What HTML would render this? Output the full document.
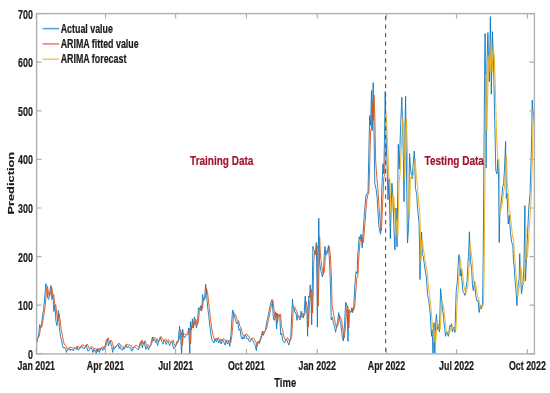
<!DOCTYPE html>
<html><head><meta charset="utf-8"><title>ARIMA prediction</title>
<style>
html,body{margin:0;padding:0;background:#fff;}
body{width:550px;height:393px;overflow:hidden;}
svg{display:block;filter:blur(0.35px);}
text{font-family:'Liberation Sans',Arial,Helvetica,sans-serif;font-weight:bold;fill:#1a1a1a;stroke:#1a1a1a;stroke-width:0.2px;}
</style></head>
<body>
<svg width="550" height="393" viewBox="0 0 550 393">
<rect width="550" height="393" fill="#fff"/>
<defs><clipPath id="c"><rect x="36.6" y="13.6" width="497.79999999999995" height="340.29999999999995"/></clipPath></defs>
<g clip-path="url(#c)" fill="none" stroke-linejoin="round" stroke-width="1">
<path d="M36.40,344.08 L37.00,337.76 L38.50,336.79 L39.70,324.64 L40.70,327.56 L41.70,323.67 L42.50,315.41 L43.60,309.57 L44.60,299.37 L45.80,283.82 L46.80,285.76 L47.60,297.42 L48.60,299.37 L49.90,291.59 L50.90,285.27 L51.90,299.37 L52.90,294.99 L53.90,311.52 L54.90,305.20 L56.00,321.72 L57.00,325.61 L58.40,310.55 L59.40,327.56 L60.40,336.30 L61.40,339.71 L62.40,345.05 L63.30,347.97 L64.10,347.72 L64.90,347.48 L65.70,349.33 L66.50,352.34 L67.60,349.43 L68.45,349.47 L69.30,348.45 L70.10,350.43 L70.90,348.94 L71.70,350.07 L72.50,349.43 L73.35,350.87 L74.20,348.45 L75.30,348.82 L76.40,349.43 L77.20,347.06 L78.00,349.91 L78.80,349.90 L79.60,347.97 L80.45,348.20 L81.30,346.02 L82.10,346.29 L82.90,348.45 L83.70,348.00 L84.50,348.94 L85.35,346.79 L86.20,345.05 L87.30,348.94 L88.10,351.23 L88.90,349.91 L89.70,349.24 L90.50,348.45 L91.35,348.07 L92.20,350.40 L93.00,352.53 L93.80,349.43 L94.60,351.04 L95.40,350.88 L96.25,353.61 L97.10,348.94 L97.90,351.69 L98.70,349.43 L99.50,352.52 L100.30,348.45 L101.15,348.91 L102.00,348.45 L102.80,350.43 L103.60,347.48 L104.70,349.43 L105.80,342.14 L106.60,339.91 L107.40,338.73 L108.50,346.02 L109.35,343.29 L110.20,341.16 L111.00,344.20 L111.80,346.51 L112.60,352.37 L113.40,348.45 L114.20,349.26 L115.00,347.97 L115.85,347.09 L116.70,346.02 L117.50,345.07 L118.30,344.57 L119.15,348.51 L120.00,346.51 L120.80,348.90 L121.60,349.43 L122.45,350.36 L123.30,347.48 L124.10,349.30 L124.90,347.97 L125.70,344.93 L126.50,346.02 L127.30,347.84 L128.10,346.51 L128.95,347.30 L129.80,347.97 L130.65,347.71 L131.50,350.88 L132.30,350.80 L133.10,348.45 L133.90,347.70 L134.70,346.51 L135.55,347.27 L136.40,348.45 L137.20,349.06 L138.00,349.91 L138.80,349.38 L139.60,344.08 L140.45,342.47 L141.30,341.16 L142.40,347.97 L143.40,343.11 L144.20,341.92 L145.00,346.02 L145.85,349.27 L146.70,346.51 L147.55,346.54 L148.40,349.91 L149.20,347.98 L150.00,346.51 L150.80,344.84 L151.60,340.68 L152.45,337.03 L153.30,341.16 L154.10,339.20 L154.90,340.19 L155.70,342.52 L156.50,340.19 L157.60,345.54 L158.80,341.16 L160.30,336.79 L161.50,341.16 L162.30,342.48 L163.10,344.08 L163.90,341.01 L164.70,340.19 L165.50,342.75 L166.30,344.57 L167.15,341.54 L168.00,341.16 L168.80,343.48 L169.60,345.54 L170.45,342.78 L171.30,342.62 L172.10,341.53 L172.90,346.02 L173.70,348.55 L174.50,348.45 L175.60,346.02 L177.10,341.16 L178.10,342.14 L179.60,326.10 L180.60,335.82 L181.60,353.80 L182.60,329.01 L183.60,335.82 L184.60,337.76 L185.70,335.82 L186.70,334.85 L187.70,334.36 L188.70,328.04 L189.80,353.80 L190.40,321.72 L191.40,329.99 L192.40,318.81 L193.40,328.04 L194.40,316.86 L195.50,323.18 L196.50,328.04 L197.50,320.75 L198.50,307.63 L199.50,310.06 L200.60,305.69 L201.60,311.03 L202.60,294.51 L203.60,300.83 L204.60,297.91 L205.70,284.30 L206.70,295.48 L207.70,307.63 L208.70,315.41 L209.80,325.61 L210.80,333.87 L212.00,340.19 L212.90,341.26 L213.80,343.11 L215.00,339.22 L216.20,341.65 L217.50,338.73 L218.60,343.11 L220.00,340.19 L221.20,344.08 L222.50,339.22 L223.60,341.65 L225.00,345.05 L226.20,340.68 L227.50,344.08 L228.60,341.16 L229.80,346.51 L231.00,334.36 L232.20,314.92 L232.80,310.06 L233.60,313.95 L234.40,315.89 L235.50,319.78 L236.70,323.67 L237.80,321.72 L239.00,330.33 L240.00,328.78 L241.00,336.32 L242.00,339.14 L243.10,336.62 L244.10,338.86 L245.10,334.98 L246.10,336.08 L247.10,338.99 L248.10,338.25 L249.20,341.31 L250.20,341.83 L251.20,339.37 L252.20,339.34 L253.20,341.16 L254.20,343.56 L255.30,345.54 L256.30,350.69 L257.30,342.01 L258.30,341.78 L259.30,343.53 L260.30,338.69 L261.40,335.53 L262.40,331.30 L263.40,335.26 L264.40,331.95 L265.40,330.30 L266.40,324.39 L267.50,318.42 L268.50,314.49 L269.70,307.48 L270.90,302.21 L272.10,299.53 L273.10,313.96 L273.60,319.55 L274.60,320.14 L275.60,311.69 L276.60,328.84 L277.60,313.54 L278.70,315.60 L279.70,314.57 L280.70,334.58 L281.70,333.24 L282.70,340.47 L283.70,342.07 L284.70,342.82 L285.80,339.46 L286.80,339.49 L287.80,342.43 L288.80,345.11 L289.80,340.90 L290.80,336.54 L291.70,315.10 L292.50,299.27 L293.20,307.86 L293.90,307.97 L295.00,312.58 L296.00,312.75 L297.00,320.35 L298.00,316.18 L299.10,317.67 L300.00,320.03 L301.10,311.16 L302.10,315.10 L303.10,318.04 L304.20,312.85 L305.20,296.08 L306.20,310.53 L307.00,313.23 L307.60,336.23 L308.20,308.20 L308.80,296.09 L309.50,297.49 L310.20,284.90 L311.00,296.49 L311.70,324.77 L312.40,280.90 L312.90,246.39 L313.60,249.31 L314.30,250.77 L315.30,254.66 L316.30,242.51 L316.90,280.90 L317.40,327.10 L318.10,256.60 L318.80,218.21 L319.40,260.97 L320.20,266.32 L321.00,271.18 L321.70,273.61 L322.40,277.01 L323.50,271.18 L324.20,256.60 L324.90,246.39 L325.70,251.74 L326.50,254.66 L327.50,250.77 L328.50,245.42 L329.50,260.97 L330.60,289.64 L331.20,319.93 L332.40,317.48 L333.60,323.78 L334.60,327.17 L335.60,332.35 L336.70,325.86 L337.70,321.52 L338.70,312.61 L339.70,320.10 L340.70,322.76 L341.70,331.91 L342.30,336.94 L342.80,339.71 L343.40,341.02 L344.50,324.62 L345.70,302.30 L346.50,304.03 L347.30,309.15 L348.00,341.38 L348.60,311.22 L349.20,309.75 L350.10,312.57 L351.00,312.20 L351.80,307.72 L352.60,312.59 L353.80,306.21 L354.90,284.87 L356.00,271.67 L357.20,273.61 L357.60,257.09 L358.40,246.88 L359.20,236.67 L360.10,239.59 L361.00,234.24 L362.20,247.85 L363.30,229.87 L364.50,211.40 L365.30,203.14 L366.10,195.36 L367.00,193.42 L368.00,192.93 L368.90,149.68 L369.70,115.66 L370.60,125.38 L371.50,90.39 L372.20,130.73 L373.20,82.61 L374.00,130.73 L374.80,183.70 L376.00,188.56 L377.10,197.31 L378.00,212.86 L379.00,227.44 L379.80,231.33 L380.60,234.24 L381.70,192.93 L382.90,163.77 L383.80,173.98 L384.60,130.24 L385.20,91.36 L386.00,135.10 L386.90,160.37 L388.00,199.74 L389.00,178.84 L390.30,238.62 L391.20,208.00 L391.90,183.21 L393.00,198.28 L394.10,232.30 L394.90,249.80 L396.00,208.00 L397.00,246.88 L398.30,144.33 L399.20,169.12 L400.30,135.10 L401.80,97.19 L402.60,125.38 L403.40,159.40 L404.00,201.68 L404.80,135.10 L405.60,96.22 L406.50,169.12 L407.50,242.99 L408.60,227.44 L409.50,153.57 L410.90,172.04 L412.00,178.84 L413.20,164.26 L414.30,151.14 L415.50,188.56 L416.60,193.42 L417.80,210.92 L419.00,222.58 L419.60,249.80 L420.00,279.44 L420.80,242.02 L421.60,232.30 L422.40,254.66 L423.30,256.60 L424.20,263.40 L425.30,271.18 L426.40,277.50 L427.60,295.48 L428.70,299.85 L429.50,307.63 L430.30,314.92 L431.50,336.30 L432.20,329.50 L433.00,353.31 L434.00,322.70 L434.80,353.31 L435.60,324.64 L436.40,314.43 L437.60,329.50 L438.70,324.64 L439.40,331.93 L440.60,288.68 L441.70,299.85 L442.50,309.09 L443.30,314.92 L444.00,322.70 L444.80,329.50 L445.50,336.30 L446.30,333.39 L447.00,331.93 L447.70,334.36 L448.30,336.30 L449.10,330.47 L449.80,325.61 L450.60,327.07 L451.30,323.67 L452.40,331.93 L453.10,329.50 L453.90,327.07 L455.00,332.42 L455.60,310.06 L456.20,291.11 L457.40,280.90 L458.10,266.32 L458.80,254.66 L459.70,256.60 L460.20,276.04 L461.00,268.75 L462.00,280.90 L463.00,291.59 L464.00,293.05 L465.00,295.48 L466.00,288.19 L467.00,281.87 L468.00,261.46 L468.50,256.60 L469.40,231.81 L470.50,261.46 L471.60,268.75 L472.50,285.76 L473.40,290.62 L474.60,281.39 L475.70,295.48 L476.90,300.83 L478.00,300.34 L479.20,312.49 L480.30,305.20 L481.40,309.09 L482.60,302.77 L483.20,256.60 L483.90,159.40 L484.50,86.50 L485.10,33.53 L486.00,168.15 L487.00,62.20 L487.90,32.55 L488.60,62.20 L489.30,81.64 L490.40,16.52 L491.30,94.28 L492.40,31.58 L493.50,62.20 L494.50,110.80 L495.80,170.58 L497.00,173.98 L497.90,159.40 L498.60,179.33 L499.20,242.51 L500.00,208.00 L501.00,203.14 L502.00,194.39 L502.80,186.62 L503.60,183.70 L504.50,169.12 L505.60,141.42 L506.30,198.28 L507.00,193.42 L508.20,224.04 L509.30,215.29 L510.40,232.30 L511.60,242.02 L512.80,244.94 L513.50,261.46 L514.20,266.32 L515.00,279.93 L516.00,290.62 L516.90,305.69 L518.00,285.76 L519.20,277.98 L519.70,253.68 L520.30,271.18 L521.50,294.02 L522.60,285.76 L523.80,271.18 L524.40,242.02 L524.90,205.57 L525.50,280.90 L526.50,256.60 L527.60,232.30 L528.80,208.00 L530.00,193.42 L530.80,169.12 L531.50,144.82 L532.20,100.11 L533.00,110.80 L533.60,120.52" stroke="#0a78c6" stroke-width="0.9"/>
<path d="M36.30,334.36 L37.25,342.14 L37.85,338.03 L39.35,335.96 L40.55,328.31 L41.55,327.19 L42.55,324.27 L43.35,317.88 L44.45,311.85 L45.45,303.10 L46.65,289.94 L47.65,286.59 L48.45,293.00 L49.45,296.51 L50.75,292.68 L51.75,287.23 L52.75,294.49 L53.75,294.19 L54.75,304.82 L55.75,304.44 L56.85,315.04 L57.85,321.28 L59.25,313.67 L60.25,322.06 L61.25,329.72 L62.25,334.95 L63.25,340.25 L64.15,344.00 L64.95,345.16 L65.75,345.40 L66.55,346.69 L67.35,349.10 L68.45,348.05 L69.30,347.71 L70.15,346.93 L70.95,347.94 L71.75,347.33 L72.55,347.84 L73.35,347.61 L74.20,348.46 L75.05,347.19 L76.15,346.99 L77.25,347.31 L78.05,345.89 L78.85,347.24 L79.65,347.70 L80.45,346.61 L81.30,346.38 L82.15,344.89 L82.95,344.53 L83.75,345.82 L84.55,345.97 L85.35,346.64 L86.20,345.47 L87.05,343.94 L88.15,345.93 L88.95,348.11 L89.75,348.02 L90.55,347.55 L91.35,346.87 L92.20,346.39 L93.05,347.73 L93.85,349.58 L94.65,348.22 L95.45,348.79 L96.25,348.89 L97.10,350.69 L97.95,348.29 L98.75,349.24 L99.55,348.10 L100.35,349.71 L101.15,347.63 L102.00,347.20 L102.85,346.75 L103.65,347.88 L104.45,346.36 L105.55,347.09 L106.65,342.61 L107.45,339.59 L108.25,337.77 L109.35,341.87 L110.20,341.53 L111.05,340.03 L111.85,341.48 L112.65,343.48 L113.45,348.00 L114.25,347.03 L115.05,347.22 L115.85,346.44 L116.70,345.60 L117.55,344.61 L118.35,343.65 L119.15,342.98 L120.00,345.31 L120.85,344.83 L121.65,346.21 L122.45,347.04 L123.30,347.93 L124.15,346.38 L124.95,347.01 L125.75,346.37 L126.55,344.17 L127.35,344.11 L128.15,345.27 L128.95,344.81 L129.80,345.17 L130.65,345.72 L131.50,345.75 L132.35,347.82 L133.15,348.50 L133.95,347.21 L134.75,346.26 L135.55,345.16 L136.40,345.27 L137.25,346.07 L138.05,346.75 L138.85,347.54 L139.65,347.47 L140.45,344.00 L141.30,341.75 L142.15,340.10 L143.25,343.95 L144.25,342.14 L145.05,340.74 L145.85,342.91 L146.70,345.78 L147.55,344.99 L148.40,344.73 L149.25,346.84 L150.05,346.32 L150.85,345.18 L151.65,343.70 L152.45,340.47 L153.30,336.97 L154.15,338.43 L154.95,337.67 L155.75,338.04 L156.55,339.69 L157.35,338.75 L158.45,341.90 L159.65,340.16 L161.15,336.71 L162.35,338.34 L163.15,339.77 L163.95,341.31 L164.75,339.85 L165.55,338.81 L166.35,340.10 L167.15,341.74 L168.00,340.35 L168.85,339.61 L169.65,340.86 L170.45,342.64 L171.30,341.47 L172.15,340.95 L172.95,340.06 L173.75,342.67 L174.55,345.23 L175.35,346.06 L176.45,344.77 L177.95,341.16 L178.95,340.53 L180.45,329.89 L181.45,332.48 L182.45,345.07 L183.45,333.37 L184.45,333.70 L185.45,335.08 L186.55,334.29 L187.55,333.39 L188.55,332.76 L189.55,328.43 L190.65,343.66 L191.25,328.14 L192.25,328.08 L193.25,321.76 L194.25,325.21 L195.25,319.15 L196.35,321.14 L197.35,324.99 L198.35,321.61 L199.35,311.89 L200.35,310.07 L201.45,306.59 L202.45,308.84 L203.45,298.89 L204.45,299.52 L205.45,297.84 L206.55,288.41 L207.55,292.37 L208.55,301.66 L209.55,309.96 L210.65,319.50 L211.65,328.21 L212.85,334.40 L213.75,337.59 L214.65,339.91 L215.85,338.20 L217.05,339.18 L218.35,337.63 L219.45,339.93 L220.85,338.84 L222.05,340.98 L223.35,338.57 L224.45,339.31 L225.85,341.78 L227.05,339.80 L228.35,341.32 L229.45,339.95 L230.65,342.95 L231.85,336.10 L233.05,322.04 L233.65,313.62 L234.45,313.20 L235.25,314.32 L236.35,317.24 L237.55,320.79 L238.65,320.76 L239.85,326.35 L240.85,327.30 L241.85,331.56 L242.85,335.22 L243.95,334.87 L244.95,336.20 L245.95,334.14 L246.95,334.14 L247.95,336.03 L248.95,336.21 L250.05,338.26 L251.05,339.32 L252.05,338.09 L253.05,337.64 L254.05,338.66 L255.05,340.58 L256.15,342.54 L257.15,346.58 L258.15,342.34 L259.15,340.72 L260.15,341.28 L261.15,338.33 L262.25,335.25 L263.25,331.42 L264.25,332.65 L265.25,330.93 L266.25,329.26 L267.25,325.80 L268.35,320.37 L269.35,315.91 L270.55,309.80 L271.75,304.23 L272.95,300.55 L273.95,308.63 L274.45,315.10 L275.45,317.74 L276.45,313.18 L277.45,322.73 L278.45,316.12 L279.55,315.15 L280.55,314.14 L281.55,326.79 L282.55,329.38 L283.55,335.33 L284.55,338.45 L285.55,340.03 L286.65,338.40 L287.65,337.84 L288.65,339.56 L289.65,341.90 L290.65,339.99 L291.65,336.48 L292.55,322.29 L293.35,306.70 L294.05,306.82 L294.75,306.94 L295.85,309.97 L296.85,311.14 L297.85,316.50 L298.85,315.66 L299.95,316.34 L300.85,318.10 L301.95,312.96 L302.95,313.72 L303.95,315.90 L305.05,313.29 L306.05,301.47 L307.05,306.73 L307.85,310.32 L308.45,326.53 L309.05,313.99 L309.65,301.72 L310.35,298.34 L311.05,288.97 L311.85,293.22 L312.55,313.10 L313.25,291.54 L313.75,261.56 L314.45,252.97 L315.15,250.91 L316.15,252.71 L317.15,245.45 L317.75,267.86 L318.25,305.73 L318.95,273.17 L319.65,236.81 L320.25,251.88 L321.05,260.64 L321.85,266.86 L322.55,270.61 L323.25,274.14 L324.35,271.58 L325.05,261.21 L325.75,250.95 L326.55,250.83 L327.35,252.69 L328.35,250.81 L329.35,246.68 L330.35,255.34 L331.45,277.00 L332.05,304.27 L333.25,312.23 L334.45,319.11 L335.45,323.71 L336.45,327.72 L337.55,326.22 L338.55,322.53 L339.55,315.45 L340.55,317.84 L341.55,320.41 L342.55,327.25 L343.15,331.94 L343.65,335.73 L344.25,337.90 L345.35,328.01 L346.55,311.01 L347.35,305.84 L348.15,307.36 L348.85,327.87 L349.45,316.76 L350.05,311.57 L350.95,311.59 L351.85,311.36 L352.65,308.36 L353.45,310.48 L354.65,307.07 L355.75,292.01 L356.85,278.15 L358.05,274.57 L358.45,262.57 L359.25,251.74 L360.05,241.32 L360.95,239.56 L361.85,235.47 L363.05,242.89 L364.15,233.79 L365.35,218.61 L366.15,207.92 L366.95,199.13 L367.85,194.79 L368.85,192.95 L369.75,164.19 L370.55,132.01 L371.45,127.07 L372.35,102.60 L373.05,120.25 L374.05,95.15 L374.85,117.64 L375.65,159.95 L376.85,177.91 L377.95,189.89 L378.85,204.19 L379.85,218.67 L380.65,226.27 L381.45,230.82 L382.55,205.56 L383.75,177.77 L384.65,174.67 L385.45,145.16" stroke="#D95319" stroke-width="0.9"/>
<path d="M385.45,148.94 L386.05,114.39 L386.85,126.82 L387.75,146.95 L388.85,178.62 L389.85,178.75 L391.15,214.67 L392.05,210.67 L392.75,194.20 L393.85,196.65 L394.95,218.04 L395.75,237.09 L396.85,219.64 L397.85,235.98 L399.15,180.99 L400.05,173.87 L401.15,150.61 L402.65,118.56 L403.45,122.65 L404.25,144.70 L404.85,178.89 L405.65,152.62 L406.45,118.78 L407.35,148.98 L408.35,205.39 L409.45,218.62 L410.35,179.59 L411.75,175.06 L412.85,177.33 L414.05,169.49 L415.15,158.48 L416.35,176.53 L417.45,186.66 L418.65,201.21 L419.85,214.03 L420.45,235.49 L420.85,261.86 L421.65,249.96 L422.45,239.36 L423.25,248.54 L424.15,253.38 L425.05,259.39 L426.15,266.47 L427.25,273.08 L428.45,286.52 L429.55,294.52 L430.35,302.39 L431.15,309.91 L432.35,325.75 L433.05,328.00 L433.85,342.70 L434.85,330.41 L435.65,343.86 L436.45,332.04 L437.25,321.67 L438.45,326.37 L439.55,325.33 L440.25,329.29 L441.45,304.92 L442.55,301.88 L443.35,306.21 L444.15,311.43 L444.85,318.19 L445.65,324.98 L446.35,331.29 L447.15,332.26 L447.85,331.77 L448.55,333.03 L449.15,334.70 L449.95,331.87 L450.65,328.31 L451.45,327.57 L452.15,325.23 L453.25,329.25 L453.95,329.40 L454.75,328.00 L455.85,330.16 L456.45,318.30 L457.05,301.98 L458.25,289.33 L458.95,275.53 L459.65,263.00 L460.55,259.16 L461.05,269.29 L461.85,268.97 L462.85,276.13 L463.85,285.41 L464.85,289.99 L465.85,293.28 L466.85,290.23 L467.85,285.21 L468.85,270.96 L469.35,262.34 L470.25,244.03 L471.35,254.49 L472.45,263.04 L473.35,276.67 L474.25,285.04 L475.45,282.85 L476.55,290.43 L477.75,296.67 L478.85,298.87 L480.05,307.04 L481.15,305.94 L482.25,307.83 L483.45,304.79 L484.05,275.88 L484.75,205.99 L485.35,134.30 L485.95,73.83 L486.85,130.42 L487.85,89.49 L488.75,55.33 L489.45,59.45 L490.15,72.76 L491.25,39.02 L492.15,72.17 L493.25,47.82 L494.35,56.45 L495.35,89.06 L496.65,137.97 L497.85,159.58 L498.75,159.47 L499.45,171.38 L500.05,214.06 L500.85,210.42 L501.85,206.05 L502.85,199.06 L503.65,191.59 L504.45,186.86 L505.35,176.21 L506.45,155.34 L507.15,181.10 L507.85,188.49 L509.05,209.82 L510.15,213.10 L511.25,224.62 L512.45,235.06 L513.65,240.99 L514.35,253.27 L515.05,261.10 L515.85,272.40 L516.85,283.33 L517.75,296.74 L518.85,290.15 L520.05,282.85 L520.55,265.35 L521.15,268.85 L522.35,283.95 L523.45,285.04 L524.65,276.72 L525.25,255.90 L525.75,225.70 L526.35,258.82 L527.35,257.49 L528.45,242.38 L529.65,221.75 L530.85,204.75 L531.65,183.37 L532.35,160.24 L533.05,124.16 L533.85,116.14" stroke="#EDB120" stroke-width="0.95"/>
</g>
<path d="M385.6,16V354" stroke="#bd2c55" stroke-width="1.15" stroke-dasharray="4.2,4.3" fill="none"/>
<rect x="36.6" y="13.6" width="497.79999999999995" height="340.29999999999995" fill="none" stroke="#afafaf" stroke-width="1.4"/>
<path d="M36.3,353.9V348.9M36.3,13.6V18.6M105.57,353.9V348.9M105.57,13.6V18.6M175.62,353.9V348.9M175.62,13.6V18.6M246.43,353.9V348.9M246.43,13.6V18.6M317.24,353.9V348.9M317.24,13.6V18.6M386.51,353.9V348.9M386.51,13.6V18.6M456.56,353.9V348.9M456.56,13.6V18.6M527.37,353.9V348.9M527.37,13.6V18.6M36.6,353.9H41.6M534.4,353.9H529.4M36.6,305.2H41.6M534.4,305.2H529.4M36.6,256.6H41.6M534.4,256.6H529.4M36.6,208.0H41.6M534.4,208.0H529.4M36.6,159.4H41.6M534.4,159.4H529.4M36.6,110.8H41.6M534.4,110.8H529.4M36.6,62.2H41.6M534.4,62.2H529.4M36.6,13.6H41.6M534.4,13.6H529.4" stroke="#afafaf" stroke-width="1.2" fill="none"/>
<path d="M42.5,28.6H59" stroke="#4d9fdb" stroke-width="1.5" fill="none"/><text transform="translate(60.7,32.7) scale(0.745,1)" style="font-size:11.9px">Actual value</text><path d="M42.5,43.9H59" stroke="#e5825c" stroke-width="1.5" fill="none"/><text transform="translate(60.7,48.0) scale(0.745,1)" style="font-size:11.9px">ARIMA fitted value</text><path d="M42.5,59.2H59" stroke="#f2c463" stroke-width="1.5" fill="none"/><text transform="translate(60.7,63.3) scale(0.745,1)" style="font-size:11.9px">ARIMA forecast</text>
<text transform="translate(32.9,358.80) scale(0.745,1)" text-anchor="end" style="font-size:11.9px">0</text><text transform="translate(32.9,310.20) scale(0.745,1)" text-anchor="end" style="font-size:11.9px">100</text><text transform="translate(32.9,261.60) scale(0.745,1)" text-anchor="end" style="font-size:11.9px">200</text><text transform="translate(32.9,213.00) scale(0.745,1)" text-anchor="end" style="font-size:11.9px">300</text><text transform="translate(32.9,164.40) scale(0.745,1)" text-anchor="end" style="font-size:11.9px">400</text><text transform="translate(32.9,115.80) scale(0.745,1)" text-anchor="end" style="font-size:11.9px">500</text><text transform="translate(32.9,67.20) scale(0.745,1)" text-anchor="end" style="font-size:11.9px">600</text><text transform="translate(32.9,18.60) scale(0.745,1)" text-anchor="end" style="font-size:11.9px">700</text><text transform="translate(36.30,370.3) scale(0.745,1)" text-anchor="middle" style="font-size:11.9px">Jan 2021</text><text transform="translate(105.57,370.3) scale(0.745,1)" text-anchor="middle" style="font-size:11.9px">Apr 2021</text><text transform="translate(175.62,370.3) scale(0.745,1)" text-anchor="middle" style="font-size:11.9px">Jul 2021</text><text transform="translate(246.43,370.3) scale(0.745,1)" text-anchor="middle" style="font-size:11.9px">Oct 2021</text><text transform="translate(317.24,370.3) scale(0.745,1)" text-anchor="middle" style="font-size:11.9px">Jan 2022</text><text transform="translate(386.51,370.3) scale(0.745,1)" text-anchor="middle" style="font-size:11.9px">Apr 2022</text><text transform="translate(456.56,370.3) scale(0.745,1)" text-anchor="middle" style="font-size:11.9px">Jul 2022</text><text transform="translate(527.37,370.3) scale(0.745,1)" text-anchor="middle" style="font-size:11.9px">Oct 2022</text><text transform="translate(285.2,386.5) scale(0.70,1)" text-anchor="middle" style="font-size:13.5px">Time</text><text transform="translate(13.6,183.2) scale(0.75,1) rotate(-90)" text-anchor="middle" style="font-size:12.85px">Prediction</text><text transform="translate(190.1,165.0) scale(0.752,1)" style="font-size:13.3px;fill:#A2142F;stroke:#A2142F">Training Data</text><text transform="translate(424.5,165.1) scale(0.755,1)" style="font-size:13.3px;fill:#A2142F;stroke:#A2142F">Testing Data</text>
</svg>
</body></html>
